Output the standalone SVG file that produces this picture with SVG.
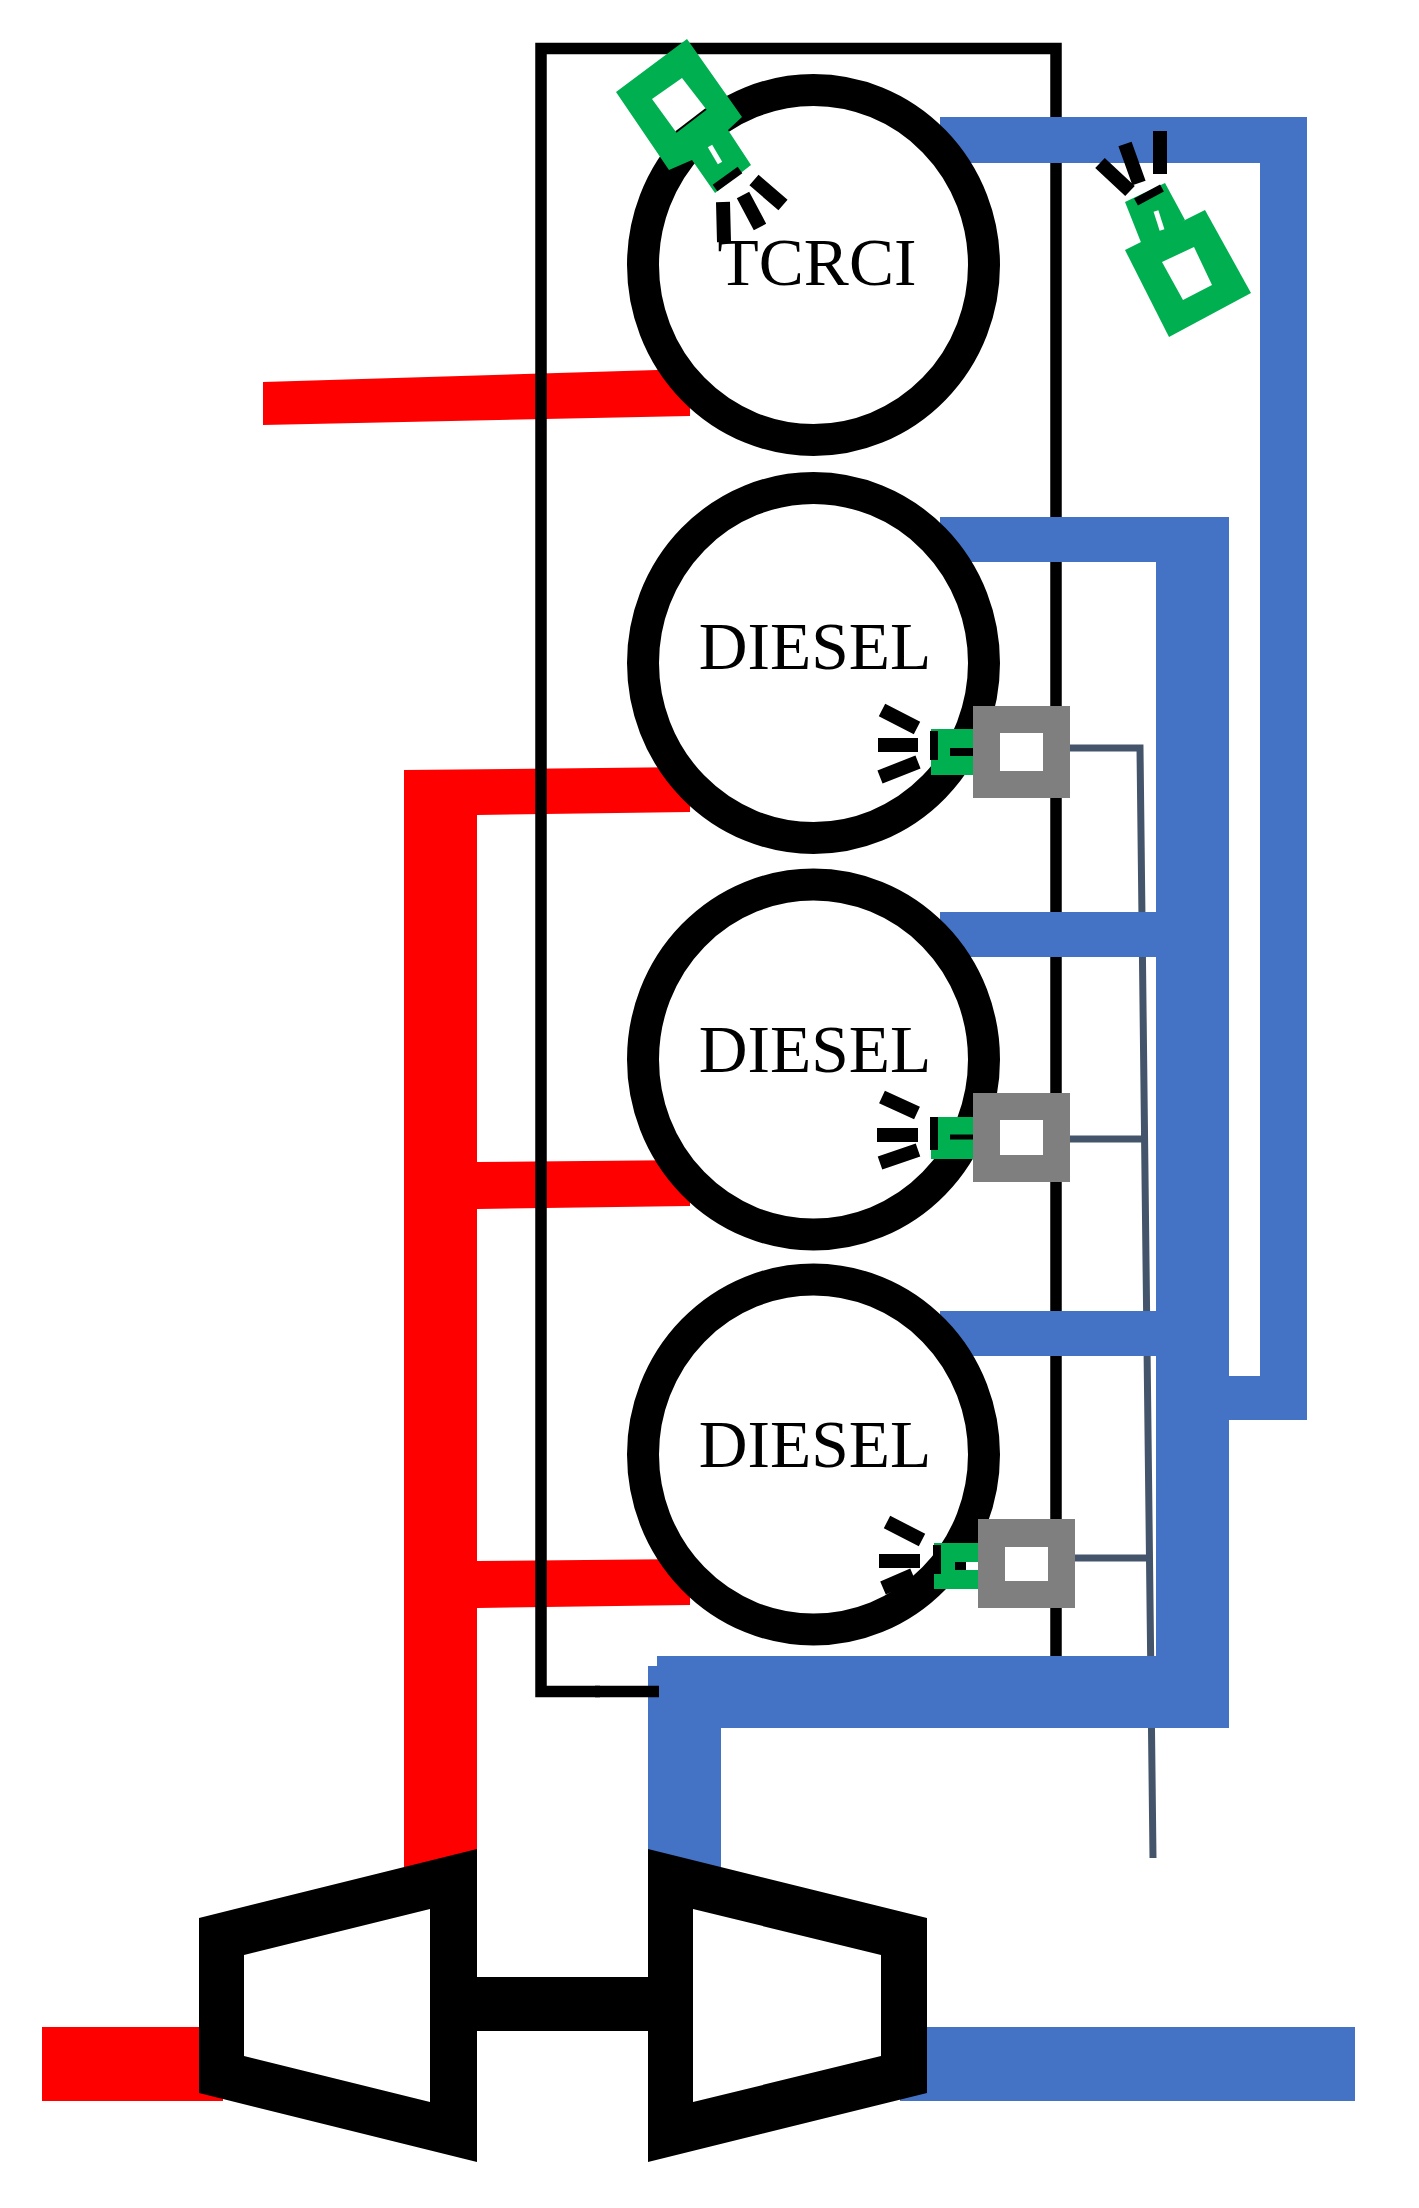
<svg xmlns="http://www.w3.org/2000/svg" width="1419" height="2208" viewBox="0 0 1419 2208">
<defs><style>
.frame{fill:none;stroke:#000;stroke-width:11.5}
.red{fill:#f00}.blue{fill:#4472c4}
.sig{fill:none;stroke:#44546a;stroke-width:7}
.cyl{fill:#fff;stroke:#000;stroke-width:32}
.lbl{font-family:"Liberation Serif","Times New Roman",serif;font-size:67.5px;fill:#000;text-anchor:middle}
.gray{fill:#7f7f7f}.green{fill:#00b050}.hole{fill:#fff}
.ray{stroke:#000;stroke-width:14;fill:none}
.edge{stroke:#000;stroke-width:8;fill:none}
.blk{fill:#000;fill-rule:evenodd}
</style></defs>
<rect width="1419" height="2208" fill="#fff"/>
<g id="connectors">
<path class="red" d="M263 382L690 369V416L263 425Z"/>
<path class="red" d="M404 770L690 767V812L477 815V1162L690 1160V1206L477 1209V1561L690 1559V1605L477 1608V1880H404Z"/>
<path class="frame" d="M600 1691.5H541V48.5H1056V1660"/>
<path class="sig" d="M1070 748H1140L1153 1858" stroke-linejoin="miter"/>
<path class="sig" d="M1070 1139H1146M1075 1558H1150"/>
<path class="blue" d="M940 117H1307V1420H1229V1728H721V1880H648V1666H657V1656H1156V1356H940V1311H1156V957H940V912H1156V562H940V517H1229V1376H1260V163H940Z"/>
<path class="frame" d="M595 1691.5H659"/>
<path class="red" d="M42 2027H223V2101H42Z"/>
<path class="blue" d="M900 2027H1355V2101H900Z"/>
</g>
<g id="cyl-tcrci"><ellipse class="cyl" cx="813.5" cy="265" rx="170.5" ry="175"/><text class="lbl" x="817" y="285">TCRCI</text></g>
<g id="cyl-diesel-1"><ellipse class="cyl" cx="813.5" cy="663" rx="170.5" ry="175"/><text class="lbl" x="815" y="669">DIESEL</text></g>
<g id="cyl-diesel-2"><ellipse class="cyl" cx="813.5" cy="1059.5" rx="170.5" ry="175"/><text class="lbl" x="815" y="1072">DIESEL</text></g>
<g id="cyl-diesel-3"><ellipse class="cyl" cx="813.5" cy="1454.5" rx="170.5" ry="175"/><text class="lbl" x="815" y="1467">DIESEL</text></g>
<g id="injector-1">
<rect class="green" x="931" y="729" width="42" height="46"/><path class="edge" d="M934 731V760M950 752H973"/>
<path class="ray" d="M882 710L917 728M878 745H918M880 777L918 762"/>
<rect class="gray" x="973" y="706" width="97" height="92"/><rect class="hole" x="1000" y="733" width="43" height="38"/></g>
<g id="injector-2">
<rect class="green" x="931" y="1117" width="42" height="42"/><path class="edge" d="M934 1117V1150"/><path d="M950 1137H973" stroke="#000" stroke-width="5"/>
<path class="ray" d="M882 1097L917 1113M877 1135H918M880 1163L918 1150"/>
<rect class="gray" x="973" y="1093" width="97" height="89"/><rect class="hole" x="1000" y="1120" width="43" height="35"/></g>
<g id="injector-3">
<rect class="green" x="934" y="1543" width="44" height="46"/><path class="edge" d="M937 1545V1574M955 1566H966"/><path d="M966 1566H978" stroke="#fff" stroke-width="8"/>
<path class="ray" d="M887 1522L922 1540M879 1561H920M883 1588L913 1575"/>
<rect class="gray" x="978" y="1519" width="97" height="89"/><rect class="hole" x="1005" y="1547" width="43" height="34"/></g>
<g id="sensor-top-left">
<path class="green" d="M687 39L616 92L669 170L692 160L715 193L751 165L728 130L742 117Z"/>
<path class="hole" d="M682 78L652 99L676 132L706 109Z"/>
<path d="M676 132L706 109" stroke="#000" stroke-width="2"/>
<path d="M710 146L720 163" stroke="#fff" stroke-width="5"/>
<path class="edge" d="M715 188L740 170"/>
<path class="ray" d="M723 202L724 242M743 195L760 227M754 180L783 205"/>
</g>
<g id="sensor-top-right">
<path class="green" d="M1125 250L1205 210L1251 293L1169 337Z"/>
<path class="green" d="M1125 202L1165 183L1185 220L1144 250Z"/>
<path class="hole" d="M1162 262L1194 247L1212 285L1183 300Z"/>
<path d="M1156 211L1162 230" stroke="#fff" stroke-width="5"/>
<path class="edge" d="M1136 202L1162 188"/>
<path class="ray" d="M1160 131V174M1125 144L1139 183M1100 163L1130 191"/>
</g>
<g id="turbocharger">
<path class="blk" d="M199 1918L477 1849V1977H648V1849L927 1918V2093L648 2162V2031H477V2162L199 2093ZM244 1955V2056L430 2102V1909ZM881 1955L693 1909V2102L881 2056Z"/>
</g>
</svg>
